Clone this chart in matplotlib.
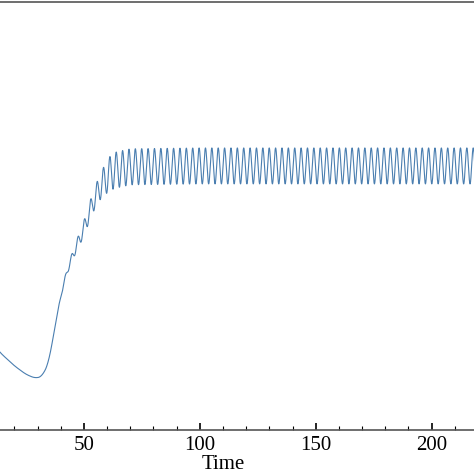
import numpy as np
import matplotlib
matplotlib.use('Agg')
from matplotlib import pyplot as plt

plt.rcParams['font.family'] = ['Liberation Serif', 'DejaVu Serif']

# slow trend of the signal
trend_t = [0, 8, 14, 20, 25, 29, 32, 35, 38, 42, 46, 50, 53, 57, 62, 70, 100, 220]
trend_v = [0.27, 0.22, 0.18, 0.15, 0.13, 0.121, 0.125, 0.16, 0.26, 0.36, 0.42, 0.47, 0.52, 0.57, 0.605, 0.615, 0.617, 0.617]
# oscillation amplitude envelope
amp_t = [0, 38, 45, 55, 62, 220]
amp_v = [0.0, 0.0, 0.01, 0.025, 0.042, 0.042]
period = 2.75

t = np.linspace(0, 220, 8000)
base = np.interp(t, trend_t, trend_v)
k = 60
base = np.convolve(np.pad(base, k, mode='edge'), np.ones(2 * k + 1) / (2 * k + 1), mode='same')[k:-k]
amp = np.interp(t, amp_t, amp_v)
y = base + amp * np.sin(2 * np.pi * t / period)

fig = plt.figure(figsize=(4.74, 4.74), dpi=100)
ax = fig.add_axes([-32 / 474, 44 / 474, 510 / 474, 428 / 474])
ax.plot(t, y, color='#4a7eb0', lw=0.8)
ax.set_xlim(0, 220)
ax.set_ylim(0, 1)
ax.set_xticks([50, 100, 150, 200])
ax.set_xticks(np.arange(0, 221, 10), minor=True)
ax.set_yticks([])
ax.tick_params(axis='x', direction='in', length=5, width=1.2, labelsize=15, pad=4)
ax.tick_params(axis='x', which='minor', direction='in', length=3, width=0.8)
for s in ax.spines.values():
    s.set_color('#555555')
    s.set_linewidth(1.2)
ax.set_xlabel('Time', fontsize=15, labelpad=0)
fig.savefig('out.png', dpi=100)
